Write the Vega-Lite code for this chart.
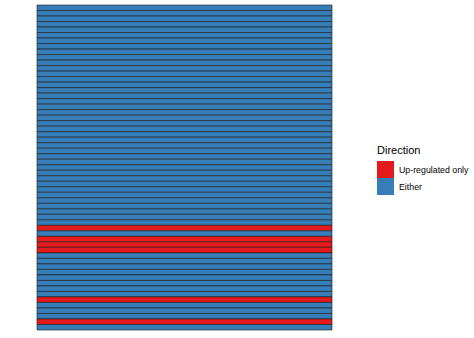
{
  "$schema": "https://vega.github.io/schema/vega-lite/v6.json",
  "width": 295,
  "height": 325,
  "padding": {"left": 37, "top": 5, "right": 142, "bottom": 8},
  "autosize": {"type": "none"},
  "background": "white",
  "config": {"view": {"stroke": null}, "font": "Liberation Sans"},
  "data": {"values": [
    {"row": 1, "Direction": "Either"},
    {"row": 2, "Direction": "Either"},
    {"row": 3, "Direction": "Either"},
    {"row": 4, "Direction": "Either"},
    {"row": 5, "Direction": "Either"},
    {"row": 6, "Direction": "Either"},
    {"row": 7, "Direction": "Either"},
    {"row": 8, "Direction": "Either"},
    {"row": 9, "Direction": "Either"},
    {"row": 10, "Direction": "Either"},
    {"row": 11, "Direction": "Either"},
    {"row": 12, "Direction": "Either"},
    {"row": 13, "Direction": "Either"},
    {"row": 14, "Direction": "Either"},
    {"row": 15, "Direction": "Either"},
    {"row": 16, "Direction": "Either"},
    {"row": 17, "Direction": "Either"},
    {"row": 18, "Direction": "Either"},
    {"row": 19, "Direction": "Either"},
    {"row": 20, "Direction": "Either"},
    {"row": 21, "Direction": "Either"},
    {"row": 22, "Direction": "Either"},
    {"row": 23, "Direction": "Either"},
    {"row": 24, "Direction": "Either"},
    {"row": 25, "Direction": "Either"},
    {"row": 26, "Direction": "Either"},
    {"row": 27, "Direction": "Either"},
    {"row": 28, "Direction": "Either"},
    {"row": 29, "Direction": "Either"},
    {"row": 30, "Direction": "Either"},
    {"row": 31, "Direction": "Either"},
    {"row": 32, "Direction": "Either"},
    {"row": 33, "Direction": "Either"},
    {"row": 34, "Direction": "Either"},
    {"row": 35, "Direction": "Either"},
    {"row": 36, "Direction": "Either"},
    {"row": 37, "Direction": "Either"},
    {"row": 38, "Direction": "Either"},
    {"row": 39, "Direction": "Either"},
    {"row": 40, "Direction": "Either"},
    {"row": 41, "Direction": "Up-regulated only"},
    {"row": 42, "Direction": "Either"},
    {"row": 43, "Direction": "Up-regulated only"},
    {"row": 44, "Direction": "Up-regulated only"},
    {"row": 45, "Direction": "Up-regulated only"},
    {"row": 46, "Direction": "Either"},
    {"row": 47, "Direction": "Either"},
    {"row": 48, "Direction": "Either"},
    {"row": 49, "Direction": "Either"},
    {"row": 50, "Direction": "Either"},
    {"row": 51, "Direction": "Either"},
    {"row": 52, "Direction": "Either"},
    {"row": 53, "Direction": "Either"},
    {"row": 54, "Direction": "Up-regulated only"},
    {"row": 55, "Direction": "Either"},
    {"row": 56, "Direction": "Either"},
    {"row": 57, "Direction": "Either"},
    {"row": 58, "Direction": "Up-regulated only"},
    {"row": 59, "Direction": "Either"}
  ]},
  "mark": {"type": "rect", "stroke": "#1a1a1a", "strokeWidth": 0.6},
  "encoding": {
    "y": {"field": "row", "type": "ordinal", "sort": "ascending", "axis": null, "scale": {"paddingInner": 0, "paddingOuter": 0}},
    "color": {
      "field": "Direction",
      "type": "nominal",
      "scale": {"domain": ["Up-regulated only", "Either"], "range": ["#E41A1C", "#377EB8"]},
      "legend": {
        "orient": "none",
        "legendX": 340,
        "legendY": 140,
        "title": "Direction",
        "titleFontSize": 11,
        "titleFontWeight": "normal",
        "titleColor": "#000000",
        "titlePadding": 5,
        "symbolType": "square",
        "symbolSize": 289,
        "symbolStrokeWidth": 0,
        "symbolOpacity": 1,
        "rowPadding": 0,
        "labelFontSize": 8.8,
        "labelColor": "#000000",
        "labelOffset": 5,
        "labelLimit": 200
      }
    }
  }
}
